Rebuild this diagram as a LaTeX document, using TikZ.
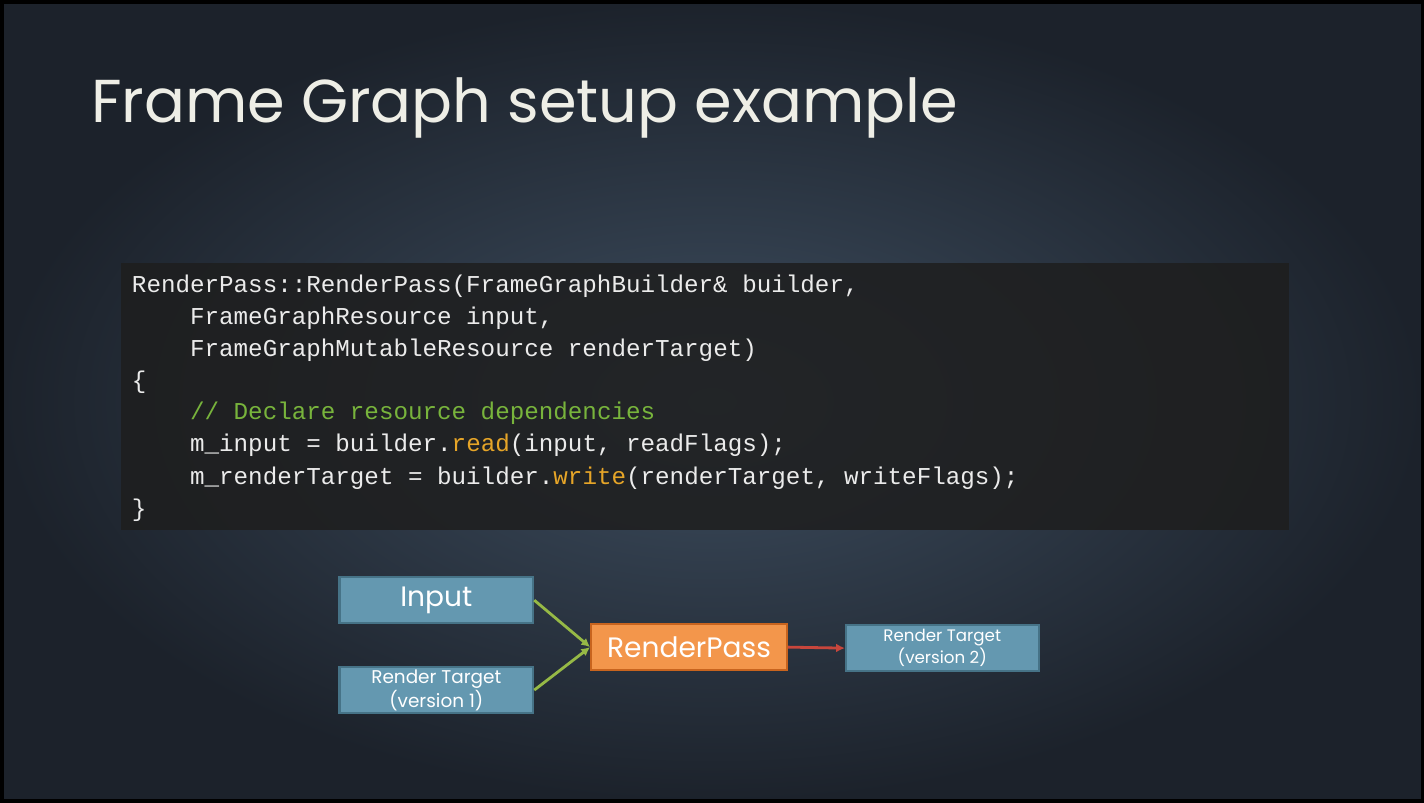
\documentclass[tikz,border=0pt]{standalone}
\usepackage{fontspec}
\setmainfont{Poppins}
\newfontfamily\codefont{Liberation Mono}
\newfontfamily\boxfont{Poppins}
\usetikzlibrary{arrows.meta}
\begin{document}
\begin{tikzpicture}[x=0.02cm,y=-0.02cm,
  bluebox/.style={draw={rgb,255:red,70;green,115;blue,135}, line width=1.2pt, fill={rgb,255:red,100;green,152;blue,176}, text=white, font=\boxfont, inner sep=0pt, anchor=north west},
  codeline/.style={anchor=base west, font=\codefont\fontsize{13.8pt}{16pt}\selectfont, text={rgb,255:red,235;green,235;blue,235}, inner sep=0pt},
  arr/.style={line width=1.6pt, -{Latex[length=5pt,width=5pt]}}]
\definecolor{bgA}{RGB}{62,78,96}
\definecolor{bgB}{RGB}{28,34,43}
\definecolor{kw}{RGB}{230,165,40}
\definecolor{cm}{RGB}{120,180,60}
\shade[inner color=bgA, outer color=bgB] (0,0) rectangle (1424,802);
\draw[line width=2pt, black] (1,1) rectangle (1423,801);
\node[anchor=base west, text={rgb,255:red,238;green,238;blue,230}, font=\fontsize{34.5pt}{40pt}\selectfont, inner sep=0pt] (title) at (90,122) {Frame Graph setup example};
\fill[fill={rgb,255:red,30;green,30;blue,30}, fill opacity=0.85] (120,263) rectangle (1290,530);
\node[codeline] (l1) at (131,292) {RenderPass::RenderPass(FrameGraphBuilder\& builder,};
\node[codeline] (l2) at (131,324) {\ \ \ \ FrameGraphResource input,};
\node[codeline] (l3) at (131,356) {\ \ \ \ FrameGraphMutableResource renderTarget)};
\node[codeline] (l4) at (131,388) {\{};
\node[codeline] (l5) at (131,419) {\ \ \ \ \textcolor{cm}{// Declare resource dependencies}};
\node[codeline] (l6) at (131,451) {\ \ \ \ m\_input = builder.\textcolor{kw}{read}(input, readFlags);};
\node[codeline] (l7) at (131,484) {\ \ \ \ m\_renderTarget = builder.\textcolor{kw}{write}(renderTarget, writeFlags);};
\node[codeline] (l8) at (131,516) {\}};
\node[bluebox, minimum width=3.88cm, minimum height=0.92cm, font=\boxfont\fontsize{16pt}{20pt}\selectfont] (in) at (338,576) {Input};
\node[bluebox, minimum width=3.88cm, minimum height=0.92cm, align=center, font=\boxfont\fontsize{10.5pt}{12pt}\selectfont] (rt1) at (338,666) {Render Target\\(version 1)};
\node[bluebox, draw={rgb,255:red,200;green,100;blue,30}, fill={rgb,255:red,243;green,150;blue,75}, minimum width=3.92cm, minimum height=0.92cm, font=\boxfont\fontsize{16pt}{20pt}\selectfont] (rp) at (590,623) {RenderPass};
\node[bluebox, minimum width=3.86cm, minimum height=0.92cm, align=center, font=\boxfont\fontsize{9.5pt}{11pt}\selectfont] (rt2) at (845,624) {Render Target\\(version 2)};
\draw[arr, color={rgb,255:red,150;green,185;blue,70}] (in.east) -- (rp.west);
\draw[arr, color={rgb,255:red,150;green,185;blue,70}] (rt1.east) -- (rp.west);
\draw[arr, color={rgb,255:red,200;green,70;blue,60}] (rp.east) -- (rt2.west);
\end{tikzpicture}
\end{document}
